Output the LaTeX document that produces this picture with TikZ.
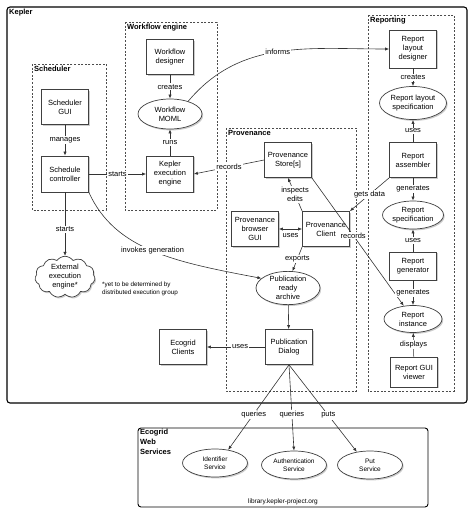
\documentclass[tikz,border=0pt]{standalone}
\usepackage{fontspec}
\setmainfont{Liberation Sans}
\usetikzlibrary{arrows.meta,shapes.geometric,shapes.symbols,shadows}

\begin{document}
\begin{tikzpicture}[x=1pt,y=-1pt,>={Latex[length=4pt,width=3.2pt]},
 font=\fontsize{7.5}{9}\selectfont,
 box/.style={draw=black!75,line width=.7pt,fill=white,minimum width=47pt,minimum height=35pt,align=center,inner sep=1pt,
  drop shadow={shadow xshift=1.2pt,shadow yshift=-1.4pt,opacity=.4}},
 oval/.style={draw=black!75,line width=.7pt,fill=white,ellipse,inner sep=0pt,align=center,
  drop shadow={shadow xshift=1.2pt,shadow yshift=-1.4pt,opacity=.4}},
 svc/.style={oval,minimum width=65pt,minimum height=28pt,font=\fontsize{6.5}{8}\selectfont},
 group/.style={draw=black!70,line width=.6pt,dash pattern=on 2pt off 1.6pt},
 title/.style={font=\fontsize{7.5}{9}\selectfont\bfseries,anchor=north west,inner sep=1pt,align=left},
 lbl/.style={fill=white,inner sep=1pt},
 link/.style={->,draw=black!80,line width=.6pt}]
\useasboundingbox (0,0) rectangle (474,514);
% containers
\draw[line width=1.1pt,rounded corners=3pt] (7,7) rectangle (467,403);
\node[title] (kepler) at (8,8) {Kepler};
\draw[group] (125,22) rectangle (217,210);
\node[title] (wftitle) at (126,23) {Workflow engine};
\draw[group] (32,64) rectangle (106,210);
\node[title] (schtitle) at (33,65) {Scheduler};
\draw[group] (226,128) rectangle (356,391);
\node[title] (provtitle) at (227,129) {Provenance};
\draw[group] (368,15) rectangle (454,391);
\node[title] (reptitle) at (369,16) {Reporting};
\draw[line width=.9pt,rounded corners=3pt] (138,428) rectangle (428,507);
\node[title,font=\fontsize{7.5}{10}\selectfont\bfseries] (ecotitle) at (139,428) {Ecogrid\\Web\\Services};
\node[font=\fontsize{6.5}{8}\selectfont] (lib) at (283,502) {library.kepler-project.org};
% workflow engine
\node[box] (wdesign) at (170,57) {Workflow\\designer};
\node[oval,minimum width=64pt,minimum height=30pt] (moml) at (170,114) {Workflow\\MOML};
\node[box,minimum height=36pt] (engine) at (170,174) {Kepler\\execution\\engine};
% scheduler
\node[box] (sgui) at (65,107) {Scheduler\\GUI};
\node[box,minimum height=36pt] (sctrl) at (65,174) {Schedule\\controller};
\node[cloud,cloud puffs=11,cloud puff arc=110,aspect=1.45,minimum width=60pt,minimum height=41pt,inner sep=0pt,
 draw=black!75,line width=.7pt,fill=white,align=center,
 drop shadow={shadow xshift=1.2pt,shadow yshift=-1.4pt,opacity=.4}] (extern) at (65,277) {External\\execution\\engine*};
\node[anchor=north west,align=left,inner sep=0pt,font=\fontsize{6.3}{8}\selectfont] (note) at (102,282)
 {*yet to be determined by\\distributed execution group};
% provenance
\node[box] (store) at (288,160) {Provenance\\Store[s]};
\node[box] (browser) at (255,229) {Provenance\\browser\\GUI};
\node[box] (client) at (326,229) {Provenance\\Client};
\node[oval,minimum width=64pt,minimum height=33pt] (archive) at (288,288) {Publication\\ready\\archive};
\node[box] (dialog) at (289,347) {Publication\\Dialog};
\node[box] (eclients) at (183,347) {Ecogrid\\Clients};
% reporting
\node[box,minimum height=38pt] (lrdesign) at (413,49) {Report\\layout\\designer};
\node[oval,minimum width=67pt,minimum height=33pt] (lspec) at (413,103) {Report layout\\specification};
\node[box] (assembler) at (413,160) {Report\\assembler};
\node[oval,minimum width=61pt,minimum height=28pt] (spec) at (413,215) {Report\\specification};
\node[box,minimum height=28pt] (generator) at (413,266) {Report\\generator};
\node[oval,minimum width=58pt,minimum height=27pt] (instance) at (413,319) {Report\\instance};
\node[box,minimum height=30pt] (viewer) at (414,372) {Report GUI\\viewer};
% web services
\node[svc] (ident) at (215,463) {Identifier\\Service};
\node[svc] (auth) at (294,465) {Authentication\\Service};
\node[svc] (put) at (370,465) {Put\\Service};
% connectors
\draw[link] (wdesign) -- node[lbl]{creates} (moml);
\draw[link] (engine) -- node[lbl]{runs} (moml);
\draw[link] (sgui) -- node[lbl]{manages} (sctrl);
\draw[link] (sctrl) -- node[lbl]{starts} (engine);
\draw[link] (sctrl) -- node[lbl,pos=.58]{starts} (extern);
\draw[link] (sctrl.south east) .. controls (115,250) and (175,262) .. node[lbl]{invokes generation} (archive.160);
\draw[link] (moml.35) to[out=50,in=180] node[lbl,pos=.5]{informs} (lrdesign);
\draw[link] (store.west) -- node[lbl]{records} (engine.east);
\draw[link] (client.north west) -- node[lbl,align=center]{inspects\\edits} (store.south);
\draw[link,<->] (browser) -- node[below=1pt]{uses} (client);
\draw[link] (client.south west) -- node[lbl]{exports} (archive.75);
\draw[link] (assembler.south west) -- node[lbl]{gets data} (client.north east);
\draw[link] (store.south east) -- node[lbl,pos=.45]{records} (instance.125);
\draw[link] (lrdesign) -- node[lbl]{creates} (lspec);
\draw[link] (assembler) -- node[lbl]{uses} (lspec);
\draw[link] (assembler) -- node[lbl]{generates} (spec);
\draw[link] (generator) -- node[lbl]{uses} (spec);
\draw[link] (generator) -- node[lbl]{generates} (instance);
\draw[link] (viewer) -- node[lbl]{displays} (instance);
\draw[link] (archive) -- (dialog);
\draw[link] (dialog) -- node[lbl,pos=.43]{uses} (eclients);
\draw[link] (dialog.south) -- node[lbl,pos=.58]{queries} (ident.45);
\draw[link] (dialog.south) -- node[lbl,pos=.58]{queries} (auth.north);
\draw[link] (dialog.south) -- node[lbl,pos=.58]{puts} (put.135);
\end{tikzpicture}
\end{document}
